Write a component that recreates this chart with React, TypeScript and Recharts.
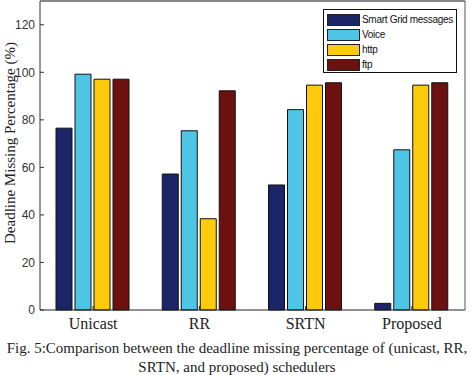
import React from "react";
import { BarChart, Bar, XAxis, YAxis } from "recharts";

const schedulers = ["Unicast", "RR", "SRTN", "Proposed"];
const smartGrid = [76.5, 57.2, 52.6, 2.8];
const voice = [99.2, 75.4, 84.3, 67.4];
const http = [97.1, 38.4, 94.6, 94.6];
const ftp = [97.1, 92.2, 95.6, 95.6];
const yTicks = [0, 20, 40, 60, 80, 100, 120];

const seriesList = [
  { key: "smartGrid", name: "Smart Grid messages", color: "#1b2567" },
  { key: "voice", name: "Voice", color: "#4fc5e6" },
  { key: "http", name: "http", color: "#fdcb0b" },
  { key: "ftp", name: "ftp", color: "#6c1010" },
];

const data = schedulers.map((name, i) => ({
  name,
  smartGrid: smartGrid[i],
  voice: voice[i],
  http: http[i],
  ftp: ftp[i],
}));

const serif = "'Liberation Serif', 'Times New Roman', serif";
const sans = "'Liberation Sans', Arial, sans-serif";

function LegendBox() {
  return (
    <div
      style={{
        position: "absolute",
        left: 323,
        top: 9,
        border: "1px solid #111",
        background: "#fff",
        padding: "2px 3px",
        boxSizing: "border-box",
        width: 134,
        height: 64,
      }}
    >
      {seriesList.map((s) => (
        <div key={s.key} style={{ display: "flex", alignItems: "center", height: 15 }}>
          <div
            style={{
              width: 31,
              height: 10,
              background: s.color,
              border: "1px solid #222",
              marginRight: 2,
            }}
          />
          <span style={{ fontFamily: sans, fontSize: 10, letterSpacing: -0.3, color: "#111" }}>
            {s.name}
          </span>
        </div>
      ))}
    </div>
  );
}

export default function App() {
  return (
    <div style={{ position: "absolute", left: 0, top: 0, width: 474, height: 375, background: "#fff", overflow: "hidden" }}>
      <BarChart
        width={474}
        height={340}
        data={data}
        margin={{ top: 0, right: 8, left: 0, bottom: 0 }}
        barCategoryGap={16}
        barGap={3}
      >
        <XAxis
          dataKey="name"
          height={30}
          stroke="#222"
          tickSize={-4}
          tickMargin={12}
          tick={{ fontFamily: serif, fontSize: 16, fill: "#222" }}
        />
        <XAxis
          xAxisId="top"
          dataKey="name"
          orientation="top"
          height={1}
          stroke="#888"
          strokeWidth={2}
          tickSize={-4}
          tick={false}
        />
        <YAxis
          domain={[0, 130]}
          ticks={yTicks}
          width={40}
          stroke="#333"
          tickSize={-4}
          tickMargin={9}
          tick={{ fontFamily: sans, fontSize: 12, fill: "#333" }}
        />
        <YAxis
          yAxisId="right"
          orientation="right"
          domain={[0, 130]}
          ticks={yTicks}
          width={1}
          stroke="#555"
          tickSize={-4}
          tick={false}
        />
        {seriesList.map((s) => (
          <Bar
            key={s.key}
            dataKey={s.key}
            name={s.name}
            fill={s.color}
            stroke="#111"
            strokeWidth={1}
            isAnimationActive={false}
          />
        ))}
      </BarChart>
      <LegendBox />
      <div
        style={{
          position: "absolute",
          left: 10,
          top: 143,
          transform: "translate(-50%, -50%) rotate(-90deg)",
          whiteSpace: "nowrap",
          fontFamily: serif,
          fontSize: 15,
          color: "#222",
        }}
      >
        Deadline Missing Percentage (%)
      </div>
      <div
        style={{
          position: "absolute",
          left: 0,
          top: 339,
          width: 474,
          textAlign: "center",
          fontFamily: serif,
          fontSize: 15,
          lineHeight: "19px",
          color: "#222",
        }}
      >
        Fig. 5:Comparison between the deadline missing percentage of (unicast, RR,
        <br />
        SRTN, and proposed) schedulers
      </div>
    </div>
  );
}
